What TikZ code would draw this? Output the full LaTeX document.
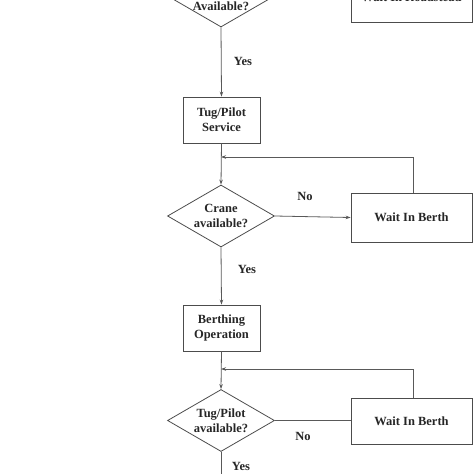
\documentclass[tikz,border=0pt]{standalone}
\usepackage{fontspec}
\setmainfont{Liberation Serif}
\usetikzlibrary{arrows.meta,shapes.geometric}
\begin{document}
\begin{tikzpicture}[x=1pt,y=-1pt,
  every node/.style={font=\bfseries\fontsize{12.5}{15}\selectfont, text=black!85},
  procbox/.style={draw=black!70, line width=0.8pt, rectangle, inner sep=0pt, align=center},
  decis/.style={draw=black!70, line width=0.8pt, diamond, inner sep=0pt, minimum width=107pt, minimum height=62pt},
  dtext/.style={align=center, inner sep=0pt},
  conn/.style={draw=black!65, line width=0.8pt},
  arr/.style={conn, -{Stealth[length=5pt,width=3.5pt]}},
  lbl/.style={inner sep=0pt}]
\useasboundingbox (0,0) rectangle (474,474);
% top decision (cut off)
\node[decis] (d0) at (221,-4) {};
\node[dtext] (d0t) at (221,6) {Available?};
\node[procbox, minimum width=121pt, minimum height=49pt] (wr) at (411.5,-2.5) {};
\node[lbl] (wrt) at (411.5,-3) {Wait In Roadstead};
% tug/pilot service
\node[procbox, minimum width=77pt, minimum height=46pt] (tps) at (221.5,120) {Tug/Pilot\\Service};
\node[lbl] (y1) at (243,61) {Yes};
% crane decision
\node[decis] (d1) at (221,216) {};
\node[dtext] (d1t) at (221,216) {Crane\\available?};
\node[procbox, minimum width=121pt, minimum height=49pt] (wb1) at (411.5,217.5) {Wait In Berth};
\coordinate (c1a) at (413,157);
\coordinate (c1b) at (221,157);
\node[lbl] (n1) at (305,196) {No};
\node[lbl] (y2) at (247,269) {Yes};
% berthing
\node[procbox, minimum width=77pt, minimum height=46pt] (bo) at (221.5,328) {Berthing\\Operation};
% tug/pilot decision
\node[decis] (d2) at (221,420.5) {};
\node[dtext] (d2t) at (221,420.5) {Tug/Pilot\\available?};
\node[procbox, minimum width=121pt, minimum height=46pt] (wb2) at (411.5,421) {Wait In Berth};
\coordinate (c2a) at (413,369);
\coordinate (c2b) at (221,369);
\node[lbl] (n2) at (303,436) {No};
\node[lbl] (y3) at (241,466) {Yes};
\coordinate (bend) at (221,476);
% connectors
\draw[arr] (d0.south) -- (tps.north);
\draw[arr] (tps.south) -- (d1.north);
\draw[arr] (wb1.north -| c1a) -- (c1a) -- (c1b);
\draw[arr] (d1.east) -- (wb1.west);
\draw[arr] (d1.south) -- (bo.north);
\draw[arr] (bo.south) -- (d2.north);
\draw[arr] (wb2.north -| c2a) -- (c2a) -- (c2b);
\draw[conn] (d2.east) -- (wb2.west |- d2.east);
\draw[conn] (d2.south) -- (bend);
\end{tikzpicture}
\end{document}
